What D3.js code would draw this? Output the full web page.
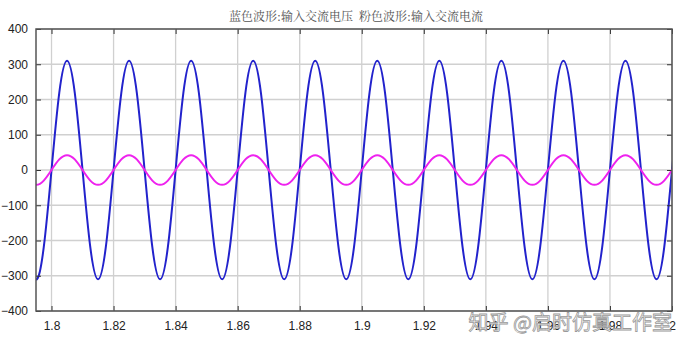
<!DOCTYPE html>
<html><head><meta charset="utf-8">
<script src="https://cdn.jsdelivr.net/npm/d3@7"></script>
<style>body{margin:0;background:#fff}svg{display:block}</style>
</head><body>
<svg id="c" width="693" height="347"></svg>
<script>
const titleText = "蓝色波形:输入交流电压  粉色波形:输入交流电流";
const watermark = "知乎 @启时仿真工作室";
const xTicks = [1.8, 1.82, 1.84, 1.86, 1.88, 1.9, 1.92, 1.94, 1.96, 1.98, 2];
const xTickLabels = ["1.8","1.82","1.84","1.86","1.88","1.9","1.92","1.94","1.96","1.98","2"];
const yTicks = [-400,-300,-200,-100,0,100,200,300,400];
const times = [1.7925,1.795,1.7975,1.8,1.8025,1.805,1.8075,1.81,1.8125,
1.815,1.8175,1.82,1.8225,1.825,1.8275,1.83,1.8325,
1.835,1.8375,1.84,1.8425,1.845,1.8475,1.85,1.8525,
1.855,1.8575,1.86,1.8625,1.865,1.8675,1.87,1.8725,
1.875,1.8775,1.88,1.8825,1.885,1.8875,1.89,1.8925,
1.895,1.8975,1.9,1.9025,1.905,1.9075,1.91,1.9125,
1.915,1.9175,1.92,1.9225,1.925,1.9275,1.93,1.9325,
1.935,1.9375,1.94,1.9425,1.945,1.9475,1.95,1.9525,
1.955,1.9575,1.96,1.9625,1.965,1.9675,1.97,1.9725,
1.975,1.9775,1.98,1.9825,1.985,1.9875,1.99,1.9925,
1.995,1.9975,2.0,2.0025];
const voltage = [-219,-310,-219,0,219,310,219,0,-219,
-310,-219,0,219,310,219,0,-219,
-310,-219,0,219,310,219,0,-219,
-310,-219,0,219,310,219,0,-219,
-310,-219,0,219,310,219,0,-219,
-310,-219,0,219,310,219,0,-219,
-310,-219,0,219,310,219,0,-219,
-310,-219,0,219,310,219,0,-219,
-310,-219,0,219,310,219,0,-219,
-310,-219,0,219,310,219,0,-219,
-310,-219,0,219];
const current = [-30,-42,-30,0,30,42,30,0,-30,
-42,-30,0,30,42,30,0,-30,
-42,-30,0,30,42,30,0,-30,
-42,-30,0,30,42,30,0,-30,
-42,-30,0,30,42,30,0,-30,
-42,-30,0,30,42,30,0,-30,
-42,-30,0,30,42,30,0,-30,
-42,-30,0,30,42,30,0,-30,
-42,-30,0,30,42,30,0,-30,
-42,-30,0,30,42,30,0,-30,
-42,-30,0,30];

const svg = d3.select("#c");
const L=36, R=672, T=29, B=311;
const x = d3.scaleLinear().domain([1.795, 2]).range([L, R]);
const y = d3.scaleLinear().domain([-400, 400]).range([B, T]);

// grid
const g = svg.append("g");
g.selectAll(".vg").data(xTicks).enter().append("line")
  .attr("x1", d=>x(d)).attr("x2", d=>x(d)).attr("y1", T).attr("y2", B)
  .attr("stroke", "#d0d0d0").attr("stroke-width", 1.3);
g.selectAll(".hg").data(yTicks).enter().append("line")
  .attr("x1", L).attr("x2", R).attr("y1", d=>y(d)).attr("y2", d=>y(d))
  .attr("stroke", "#d0d0d0").attr("stroke-width", 1.3);

// lines
svg.append("clipPath").attr("id","cp").append("rect")
  .attr("x", L).attr("y", T).attr("width", R-L).attr("height", B-T);
const line = (vals) => d3.line().x((d,i)=>x(times[i])).y(d=>y(d)).curve(d3.curveNatural)(vals);
svg.append("path").attr("d", line(voltage)).attr("fill","none")
  .attr("stroke","#2222cc").attr("stroke-width",2).attr("clip-path","url(#cp)");
svg.append("path").attr("d", line(current)).attr("fill","none")
  .attr("stroke","#ee22ee").attr("stroke-width",2).attr("clip-path","url(#cp)");

// axes
const axStyle = sel => {
  sel.select(".domain").remove();
  sel.selectAll("line").attr("stroke","#333");
  sel.selectAll("text").attr("font-family","Liberation Sans, Arial, sans-serif")
    .attr("font-size", 12).attr("fill","#222");
};
svg.append("g").attr("transform",`translate(0,${B})`)
  .call(d3.axisBottom(x).tickValues(xTicks).tickFormat((d,i)=>xTickLabels[i]).tickSizeInner(-5).tickSizeOuter(0).tickPadding(10))
  .call(axStyle);
svg.append("g").attr("transform",`translate(0,${T})`)
  .call(d3.axisTop(x).tickValues(xTicks).tickFormat("").tickSizeInner(-5).tickSizeOuter(0))
  .call(axStyle);
svg.append("g").attr("transform",`translate(${L},0)`)
  .call(d3.axisLeft(y).tickValues(yTicks).tickSizeInner(-5).tickSizeOuter(0).tickPadding(8))
  .call(axStyle);
svg.append("g").attr("transform",`translate(${R},0)`)
  .call(d3.axisRight(y).tickValues(yTicks).tickFormat("").tickSizeInner(-5).tickSizeOuter(0))
  .call(axStyle);
svg.append("rect").attr("x",L).attr("y",T).attr("width",R-L).attr("height",B-T)
  .attr("fill","none").attr("stroke","#555").attr("stroke-width",1.5);

svg.append("text").attr("x", 356).attr("y", 21).attr("text-anchor","middle")
  .style("white-space","pre")
  .attr("font-family","Noto Serif CJK SC, Noto Sans CJK SC, serif").attr("font-size",12)
  .attr("fill","#555").text(titleText);

svg.append("text").attr("x", 672).attr("y", 330).attr("text-anchor","end")
  .attr("font-family","Noto Sans CJK SC, sans-serif").attr("font-size",20)
  .attr("fill","#fff").attr("fill-opacity",0.85).attr("stroke","#999").attr("stroke-width",0.8)
  .text(watermark);
</script>
</body></html>
